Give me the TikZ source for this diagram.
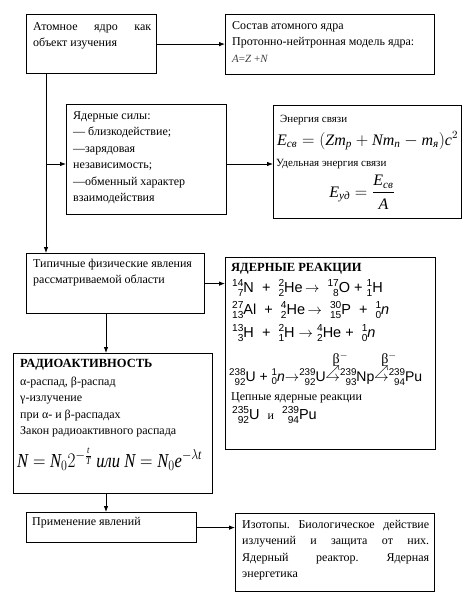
\documentclass[tikz,border=0pt]{standalone}
\usepackage{amsmath}
\usepackage{fontspec}
\setmainfont{Liberation Serif}
\setsansfont{Liberation Sans}
\usetikzlibrary{arrows.meta}
\newcommand\nuc[3]{\setbox0=\hbox{$\scriptstyle\text{#1}$}\setbox2=\hbox{$\scriptstyle\text{#2}$}\dimen0=\wd0 \ifdim\wd2>\dimen0 \dimen0=\wd2 \fi\hbox to\dimen0{}$\vphantom{\text{#3}}^{\llap{$\scriptstyle\text{#1}$}}_{\llap{$\scriptstyle\text{#2}$}}$\kern-0.5pt\text{#3}}
\newcommand\ti[1]{\textit{#1}}
\newcommand\lblk[2]{\vtop{\hsize=#1\parindent=0pt\raggedright\noindent #2}}
\newcommand\jblk[2]{\vtop{\hsize=#1\parindent=0pt\noindent #2}}
\newcommand\betarr{\makebox[0pt][l]{\raisebox{0.8ex}{$\nearrow$}}\makebox[0pt][l]{\hspace{0.5em}\raisebox{2.3ex}{\rmfamily β$^{-}$}}$\to$}
\frenchspacing
\begin{document}
\begin{tikzpicture}[x=1pt,y=-1pt,
  box/.style={draw,line width=1.2pt,inner sep=0pt,anchor=north west},
  arr/.style={line width=0.8pt,-{Latex[length=6pt,width=4.5pt]}},
  txt/.style={inner sep=0pt,anchor=base west,font=\fontsize{12}{16.5}\selectfont},
  small/.style={inner sep=0pt,anchor=base west,font=\fontsize{11}{13}\selectfont},
  reac/.style={inner sep=0pt,anchor=base west,font=\sffamily\fontsize{14.5}{16}\selectfont}]
\useasboundingbox[fill=white] (0,0) rectangle (474,606);
% boxes
\node[box,minimum width=130pt,minimum height=59pt] (b1) at (26,14) {};
\node[box,minimum width=209pt,minimum height=60pt] (b2) at (225,14) {};
\node[box,minimum width=160pt,minimum height=110pt] (b3) at (66,104) {};
\node[box,minimum width=188pt,minimum height=113pt] (b4) at (273,105) {};
\node[box,minimum width=178pt,minimum height=60pt] (b5) at (26,253) {};
\node[box,minimum width=210pt,minimum height=192pt] (b6) at (225,257) {};
\node[box,minimum width=199pt,minimum height=140pt] (b7) at (13,353) {};
\node[box,minimum width=170pt,minimum height=30pt] (b8) at (26,512) {};
\node[box,minimum width=199pt,minimum height=78pt] (b9) at (235,513) {};
% connectors
\coordinate (v0) at ([xshift=20pt]b1.south west);
\coordinate (j1) at (46,164);
\coordinate (v1) at (106,313);
\coordinate (v2) at (106,493);
\draw[arr] (b1.east) -- (b1.east -| b2.west);
\draw[arr] (v0) -- (v0 |- b5.north);
\draw[arr] (j1) -- (j1 -| b3.west);
\draw[arr] (j1 -| b3.east) -- (j1 -| b4.west);
\draw[arr] (b5.east) -- (b5.east -| b6.west);
\draw[arr] (v1) -- (v1 |- b7.north);
\draw[arr] (v2) -- (v2 |- b8.north);
\draw[arr] (b8.east) -- (b8.east -| b9.west);
% texts
\node[txt] (t1) at (33,30) {\jblk{118pt}{Атомное ядро как\linebreak объект изучения}};
\node[txt] (t2) at (232,29) {\lblk{200pt}{Состав атомного ядра\\Протонно-нейтронная модель ядра:\\{\fontsize{11}{13}\selectfont\color{black!75}\ti{A}=\ti{Z} +\ti{N}}}};
\node[txt] (t3) at (73,119) {\lblk{150pt}{Ядерные силы:\\— близкодействие;\\—зарядовая\\независимость;\\—обменный характер\\взаимодействия}};
\node[small] (t4a) at (280,122) {Энергия связи};
\node[inner sep=0pt,anchor=base west,font=\fontsize{16}{18}\selectfont] (t4b) at (277,145) {$\ti{E}_{\ti{св}} = (\ti{Z}\ti{m}_{\ti{p}} + \ti{N}\ti{m}_{\ti{n}} - \ti{m}_{\ti{я}})\ti{c}^{2}$};
\node[small] (t4c) at (276,166) {Удельная энергия связи};
\node[inner sep=0pt,font=\fontsize{16}{18}\selectfont] (t4d) at (362,192) {$\ti{E}_{\ti{уд}} = \dfrac{\ti{E}_{\ti{св}}}{\ti{A}}$};
\node[txt] (t5) at (33,267) {\lblk{170pt}{Типичные физические явления\\рассматриваемой области}};
\node[txt,font=\bfseries\fontsize{12.5}{14}\selectfont] (t6) at (231,271) {ЯДЕРНЫЕ РЕАКЦИИ};
\node[reac] (r1) at (232,292) {\nuc{14}{7}{N} ~+~ \nuc{2}{2}{He}\,$\to$~ \nuc{17}{8}{O}~+ \nuc{1}{1}{H}};
\node[reac] (r2) at (232,314) {\nuc{27}{13}{Al} ~+~ \nuc{4}{2}{He}\,$\to$~ \nuc{30}{15}{P} ~+~ \nuc{1}{0}{\itshape n}};
\node[reac] (r3) at (232,337) {\nuc{13}{3}{H} ~+~ \nuc{2}{1}{H} $\to$ \nuc{4}{2}{He}~+~ \nuc{1}{0}{\itshape n}};
\node[reac,font=\sffamily\fontsize{14}{16}\selectfont] (r4) at (229,381) {\nuc{238}{92}{U} + \nuc{1}{0}{\itshape n}$\to$\nuc{239}{92}{U}\betarr\nuc{239}{93}{Np}\betarr\nuc{239}{94}{Pu}};
\node[txt] (t6b) at (231,400) {Цепные ядерные реакции};
\node[reac] (r5) at (232,419) {\nuc{235}{92}{U} ~{\rmfamily\fontsize{12}{14}\selectfont и}~ \nuc{239}{94}{Pu}};
\node[txt,font=\bfseries\fontsize{12.5}{14}\selectfont] (t7) at (20,367) {РАДИОАКТИВНОСТЬ};
\node[txt] (t7b) at (20,385) {\lblk{190pt}{α-распад, β-распад\\γ-излучение\\при α- и β-распадах\\Закон радиоактивного распада}};
\node[inner sep=0pt,anchor=base west,font=\fontsize{16.5}{19}\selectfont] (t7c) at (17,467) {\scalebox{1}[1.2]{$\ti{N} = \ti{N}_{0}2^{-\frac{\ti{t}}{\ti{T}}}$ \ti{или} $\ti{N} = \ti{N}_{0}\ti{e}^{-\lambda \ti{t}}$}};
\node[txt] (t8) at (32,525) {Применение явлений};
\node[txt] (t9) at (242,528) {\jblk{187pt}{Изотопы. Биологическое действие\linebreak излучений и защита от них.\linebreak Ядерный реактор. Ядерная\linebreak энергетика}};
\end{tikzpicture}
\end{document}
